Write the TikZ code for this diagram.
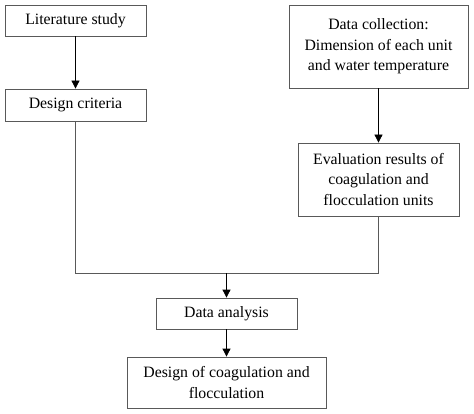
\documentclass[tikz,border=0pt]{standalone}
\usepackage{fontspec}
\setmainfont{Liberation Serif}
\usetikzlibrary{arrows.meta}

\tikzset{
  box/.style={draw=black!65, line width=0.8pt, inner sep=0pt, align=center,
    font=\fontsize{15.8}{20.5}\selectfont},
  arr/.style={-{Triangle[length=8pt,width=8pt]}, line width=0.8pt},
  link/.style={draw=black!65, line width=0.8pt}
}

\begin{document}
\begin{tikzpicture}[x=1pt,y=-1pt]
\useasboundingbox (0,0) rectangle (474,414);

% left branch
\node[box, minimum width=141pt, minimum height=31pt] (lit) at (75.5,20.5) {Literature study};
\node[box, minimum width=141pt, minimum height=32pt] (crit) at (75.5,105) {Design criteria};

% right branch
\node[box, minimum width=179pt, minimum height=83pt] (coll) at (378.5,46.5)
  {Data collection:\\ Dimension of each unit\\ and water temperature};
\node[box, minimum width=161pt, minimum height=73pt] (eval) at (378.5,179.5)
  {Evaluation results of\\ coagulation and\\ flocculation units};

% bottom
\coordinate (join) at (226.5,273);
\node[box, minimum width=141pt, minimum height=31pt] (ana) at (226.5,313.5) {Data analysis};
\node[box, minimum width=199pt, minimum height=51pt] (des) at (226.5,382.5)
  {Design of coagulation and\\ flocculation};

\draw[arr] (lit) -- (crit);
\draw[arr] (coll) -- (eval);
\draw[link] (crit) -- (crit |- join) -- (eval |- join) -- (eval);
\draw[arr] (join) -- (ana);
\draw[arr] (ana) -- (des);
\end{tikzpicture}
\end{document}
